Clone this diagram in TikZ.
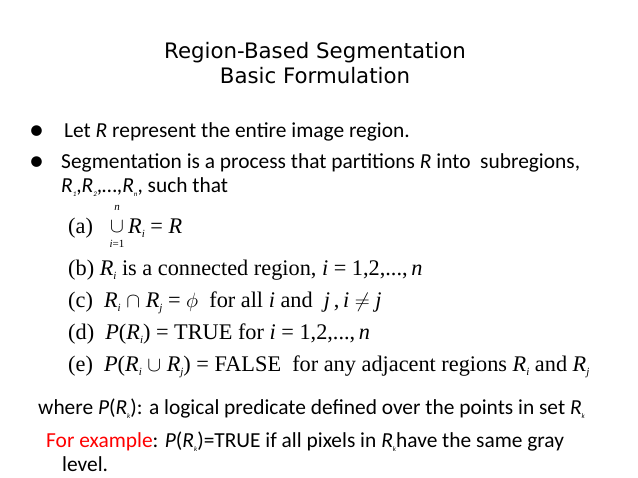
\documentclass[tikz,border=0pt]{standalone}
\usepackage{fontspec}
\setmainfont{Carlito}
\newfontfamily\ttl{DejaVu Sans}
\newfontfamily\tms{Liberation Serif}
\newcommand{\Sb}[2]{\textit{#1}\raisebox{-0.3ex}{\fontsize{11}{12}\selectfont\textit{#2}}}
\newcommand{\sk}[1]{\raisebox{-0.3ex}{\fontsize{7}{8}\selectfont\textit{#1}}}
\begin{document}
\begin{tikzpicture}[x=1pt,y=-1pt,
  txt/.style={anchor=base west,inner sep=0pt,font=\fontsize{21.4}{24}\selectfont},
  mth/.style={anchor=base west,inner sep=0pt,font=\tms\fontsize{22.3}{26}\selectfont},
  ttlsty/.style={inner sep=0pt,font=\ttl\fontsize{21.3}{24}\selectfont}]
\useasboundingbox (0,0) rectangle (638,478);
\node[ttlsty,anchor=base] (t1) at (315,59) {Region-Based Segmentation};
\node[ttlsty,anchor=base] (t2) at (315,84) {Basic Formulation};
\node[txt,font=\fontsize{30}{30}\selectfont] (b1) at (29,140) {\textbullet};
\node[txt] (l1) at (64,138) {Let \textit{R} represent the entire image region.};
\node[txt,font=\fontsize{30}{30}\selectfont] (b2) at (29,171) {\textbullet};
\node[txt] (l2) at (61,169) {Segmentation is a process that partitions \textit{R} into\ \ subregions,};
\node[txt] (l3) at (61,193) {\textit{R}\sk{1},\textit{R}\sk{2},…,\textit{R}\sk{n}, such that};
\node[mth] (a) at (68,234) {(a)};
\node[inner sep=0pt,font=\fontsize{22}{24}\selectfont] (cup) at (117,227) {$\cup$};
\node[mth] (ar) at (128,234) {\Sb{R}{i} = \textit{R}};
\node[inner sep=0pt,font=\tms\fontsize{11}{12}\selectfont\itshape] (nn) at (117,208) {n};
\node[inner sep=0pt,font=\tms\fontsize{11}{12}\selectfont] (i1) at (117,244) {\textit{i}=1};
\node[mth] (b) at (68,276) {(b) \Sb{R}{i} is a connected region, \textit{i} = 1,2,...,\,\textit{n}};
\node[mth] (c) at (68,308) {(c)\ \ \Sb{R}{i} $\cap$ \Sb{R}{j} = $\phi$\ \ for all \textit{i} and\ \ \textit{j}\,,\,\textit{i} $\neq$ \textit{j}};
\node[mth] (d) at (68,340) {(d)\ \ \textit{P}(\Sb{R}{i}) = TRUE for \textit{i} = 1,2,...,\,\textit{n}};
\node[mth] (e) at (68,372) {(e)\ \ \textit{P}(\Sb{R}{i} $\cup$ \Sb{R}{j}) = FALSE\ \ for any adjacent regions \Sb{R}{i} and \Sb{R}{j}};
\node[txt] (w) at (38,415) {where \textit{P}(\textit{R}\sk{k}): a logical predicate defined over the points in set \textit{R}\sk{k}};
\node[txt] (f) at (46,448) {\textcolor{red}{For example}: \textit{P}(\textit{R}\sk{k})=TRUE if all pixels in \textit{R}\sk{k}have the same gray};
\node[txt] (lv) at (62,472) {level.};
\end{tikzpicture}
\end{document}
